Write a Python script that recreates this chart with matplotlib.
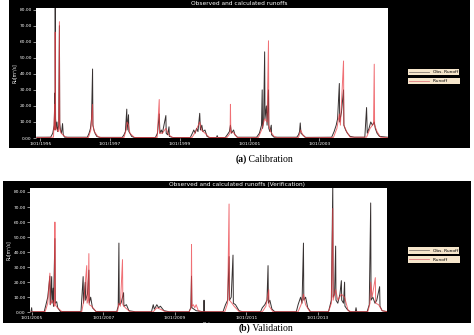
import matplotlib
matplotlib.use("Agg")
import matplotlib.pyplot as plt
from matplotlib.lines import Line2D

# ---- data (decimal year, runoff m3/s) ----
cal_obs = [
    (1994.90, 0.5), (1995.30, 0.5), (1995.36, 3), (1995.40, 8), (1995.42, 28), (1995.425, 5),
    (1995.43, 86), (1995.44, 12), (1995.46, 6), (1995.48, 10), (1995.50, 4), (1995.53, 8),
    (1995.55, 70), (1995.56, 9), (1995.58, 5), (1995.61, 3), (1995.64, 9), (1995.66, 2),
    (1995.70, 0.5), (1996.35, 0.5), (1996.40, 3), (1996.44, 6), (1996.47, 12), (1996.50, 43),
    (1996.51, 8), (1996.54, 5), (1996.57, 3), (1996.62, 1), (1996.70, 0.4), (1997.35, 0.4),
    (1997.40, 2), (1997.44, 4), (1997.48, 18), (1997.49, 5), (1997.53, 14.5), (1997.54, 4),
    (1997.57, 3), (1997.62, 1), (1997.70, 0.3), (1998.30, 0.3), (1998.36, 3), (1998.41, 15),
    (1998.43, 3), (1998.47, 5), (1998.50, 3), (1998.60, 14), (1998.61, 3), (1998.65, 2),
    (1998.69, 7), (1998.70, 1), (1998.80, 0.3), (1999.30, 0.3), (1999.36, 3), (1999.40, 5),
    (1999.44, 3), (1999.48, 6), (1999.52, 4), (1999.57, 15.4), (1999.59, 5), (1999.63, 8),
    (1999.66, 4), (1999.72, 5), (1999.78, 1), (1999.85, 0.3), (2000.05, 0.3), (2000.07, 1.5),
    (2000.09, 0.3), (2000.30, 0.3), (2000.36, 2), (2000.42, 4), (2000.45, 8), (2000.48, 3),
    (2000.54, 5), (2000.58, 2), (2000.65, 0.5), (2001.20, 0.5), (2001.28, 3), (2001.34, 8),
    (2001.36, 30), (2001.37, 6), (2001.40, 10), (2001.43, 53.7), (2001.44, 12), (2001.48, 20),
    (2001.50, 8), (2001.54, 30), (2001.55, 6), (2001.58, 4), (2001.62, 8), (2001.63, 2),
    (2001.70, 0.5), (2002.35, 0.5), (2002.40, 2), (2002.43, 4), (2002.45, 9.4), (2002.47, 3),
    (2002.52, 2), (2002.60, 0.4), (2003.35, 0.5), (2003.42, 4), (2003.48, 8), (2003.52, 12),
    (2003.57, 34), (2003.58, 10), (2003.63, 16), (2003.69, 30), (2003.70, 8), (2003.75, 5),
    (2003.80, 3), (2003.88, 1), (2004.00, 0.5), (2004.30, 0.5), (2004.35, 19), (2004.37, 3),
    (2004.42, 6), (2004.47, 10), (2004.52, 8), (2004.57, 10), (2004.60, 6), (2004.65, 3),
    (2004.72, 1), (2004.95, 0.5),
]
cal_sim = [
    (1994.90, 0.2), (1995.38, 0.5), (1995.42, 21), (1995.425, 5), (1995.43, 66), (1995.44, 8),
    (1995.48, 5), (1995.53, 4), (1995.55, 72.5), (1995.56, 6), (1995.60, 3), (1995.70, 1),
    (1995.80, 0.2), (1996.38, 0.3), (1996.45, 5), (1996.50, 21), (1996.51, 8), (1996.55, 4),
    (1996.65, 1), (1996.75, 0.2), (1997.40, 0.3), (1997.46, 5), (1997.49, 10), (1997.53, 8),
    (1997.57, 3), (1997.70, 0.3), (1998.35, 0.3), (1998.41, 24), (1998.42, 3), (1998.50, 3),
    (1998.60, 6), (1998.68, 2), (1998.80, 0.2), (1999.35, 0.3), (1999.45, 4), (1999.57, 10),
    (1999.62, 5), (1999.72, 3), (1999.85, 0.3), (2000.35, 0.3), (2000.44, 3), (2000.45, 21),
    (2000.46, 4), (2000.55, 3), (2000.65, 0.3), (2001.25, 0.3), (2001.34, 5), (2001.43, 12),
    (2001.50, 10), (2001.54, 60.6), (2001.55, 8), (2001.60, 4), (2001.70, 1), (2001.80, 0.2),
    (2002.40, 0.3), (2002.46, 5), (2002.52, 2), (2002.60, 0.2), (2003.40, 0.3), (2003.50, 6),
    (2003.57, 15), (2003.60, 8), (2003.69, 48), (2003.70, 8), (2003.78, 4), (2003.88, 0.5),
    (2004.35, 0.5), (2004.45, 6), (2004.55, 9), (2004.57, 46), (2004.58, 8), (2004.65, 4),
    (2004.75, 0.5), (2004.95, 0.2),
]
val_obs = [
    (2004.98, 0.3), (2005.00, 3), (2005.01, 0.3), (2005.35, 0.3), (2005.40, 5), (2005.45, 10),
    (2005.51, 24), (2005.52, 5), (2005.56, 23.7), (2005.57, 6), (2005.60, 16), (2005.61, 4),
    (2005.65, 49), (2005.66, 6), (2005.70, 7), (2005.73, 3), (2005.80, 0.5), (2006.38, 0.5),
    (2006.44, 23.7), (2006.45, 6), (2006.50, 20), (2006.51, 8), (2006.56, 12), (2006.60, 28),
    (2006.61, 6), (2006.65, 10), (2006.70, 3), (2006.80, 0.5), (2007.38, 0.5), (2007.42, 4),
    (2007.44, 46), (2007.45, 5), (2007.50, 6), (2007.57, 13), (2007.58, 4), (2007.65, 5),
    (2007.72, 1), (2007.90, 0.3), (2008.35, 0.3), (2008.40, 5), (2008.43, 2), (2008.50, 5),
    (2008.55, 3), (2008.60, 4), (2008.70, 1), (2008.85, 0.3), (2009.40, 0.3), (2009.45, 3),
    (2009.47, 24), (2009.48, 3), (2009.60, 1), (2009.81, 0.3), (2009.82, 8), (2009.83, 0.3),
    (2010.35, 0.3), (2010.42, 5), (2010.48, 8), (2010.52, 37), (2010.53, 8), (2010.58, 10),
    (2010.63, 38), (2010.64, 6), (2010.70, 5), (2010.80, 1), (2010.90, 0.3), (2011.40, 0.3),
    (2011.45, 3), (2011.52, 5), (2011.58, 8), (2011.61, 31), (2011.62, 6), (2011.66, 8),
    (2011.72, 2), (2011.80, 0.3), (2012.40, 0.3), (2012.45, 5), (2012.52, 10), (2012.56, 6),
    (2012.60, 46), (2012.61, 8), (2012.66, 10), (2012.72, 3), (2012.80, 0.3), (2013.30, 0.3),
    (2013.38, 8), (2013.42, 85), (2013.43, 10), (2013.47, 12), (2013.50, 44), (2013.51, 8),
    (2013.56, 6), (2013.62, 12), (2013.66, 21), (2013.67, 8), (2013.72, 6), (2013.75, 20),
    (2013.76, 4), (2013.82, 2), (2013.90, 0.3), (2014.05, 0.3), (2014.07, 3), (2014.09, 0.3),
    (2014.38, 0.3), (2014.44, 5), (2014.48, 72.7), (2014.49, 8), (2014.54, 10), (2014.60, 6),
    (2014.65, 8), (2014.73, 17), (2014.74, 4), (2014.80, 1), (2014.95, 0.3),
]
val_sim = [
    (2004.98, 0.2), (2005.38, 0.5), (2005.45, 6), (2005.51, 26), (2005.52, 5), (2005.58, 8),
    (2005.64, 4), (2005.65, 60), (2005.66, 5), (2005.72, 3), (2005.85, 0.3), (2006.40, 0.3),
    (2006.46, 8), (2006.54, 31), (2006.55, 6), (2006.58, 8), (2006.60, 39), (2006.61, 5),
    (2006.68, 4), (2006.80, 0.3), (2007.40, 0.3), (2007.44, 6), (2007.48, 4), (2007.54, 35),
    (2007.55, 5), (2007.62, 3), (2007.75, 0.3), (2008.40, 0.3), (2008.50, 3), (2008.60, 2),
    (2008.75, 0.3), (2009.40, 0.3), (2009.46, 3), (2009.47, 45), (2009.48, 4), (2009.52, 5),
    (2009.56, 3), (2009.60, 5), (2009.66, 1), (2009.75, 0.3), (2010.40, 0.3), (2010.48, 6),
    (2010.52, 72), (2010.53, 8), (2010.60, 6), (2010.66, 4), (2010.80, 0.5), (2011.45, 0.3),
    (2011.55, 4), (2011.63, 15), (2011.64, 4), (2011.75, 0.3), (2012.45, 0.3), (2012.55, 6),
    (2012.60, 12), (2012.66, 5), (2012.78, 0.3), (2013.30, 0.3), (2013.38, 6), (2013.42, 69),
    (2013.43, 8), (2013.50, 15), (2013.56, 8), (2013.66, 12), (2013.75, 10), (2013.85, 1),
    (2013.95, 0.3), (2014.40, 0.3), (2014.46, 6), (2014.48, 20), (2014.52, 10), (2014.61, 23),
    (2014.62, 6), (2014.70, 5), (2014.80, 1), (2014.95, 0.3),
]
cal_ticks = [1995, 1997, 1999, 2001, 2003]
val_ticks = [2005, 2007, 2009, 2011, 2013]
y_ticks = [0, 10, 20, 30, 40, 50, 60, 70, 80]

obs_col = (0.08, 0.05, 0.05, 0.85)
sim_col = (0.92, 0.25, 0.28, 0.75)
leg_face = '#f6e6cb'

fig = plt.figure(figsize=(4.74, 3.35), dpi=100)
fig.patch.set_facecolor('white')


def panel(frame, box, obs, sim, ticks, xlim, ylim, title, legy):
    # black frame behind the plot area
    bg = fig.add_axes(frame)
    bg.set_facecolor('black')
    bg.set_xticks([])
    bg.set_yticks([])
    for s in bg.spines.values():
        s.set_visible(False)
    bg.text(0.5, 0.995, title, transform=bg.transAxes, color='white',
            fontsize=4.2, ha='center', va='top')

    ax = fig.add_axes(box)
    ax.set_facecolor('white')
    t, q = zip(*obs)
    ax.plot(t, q, color=obs_col, lw=0.7)
    t, q = zip(*sim)
    ax.plot(t, q, color=sim_col, lw=0.7)
    ax.set_xlim(*xlim)
    ax.set_ylim(*ylim)
    ax.set_xticks(ticks)
    ax.set_xticklabels(['1/01/%d' % y for y in ticks])
    ax.set_yticks(y_ticks)
    ax.set_yticklabels(['%.2f' % v for v in y_ticks])
    ax.tick_params(colors='white', labelsize=3.2, length=2, width=0.4, pad=1)
    for s in ax.spines.values():
        s.set_visible(False)
    ax.set_xlabel('Date', color='white', fontsize=3.3, labelpad=1.5)
    ax.set_ylabel('Ru[m³/s]', color='white', fontsize=3.3, labelpad=2)

    # two little legend boxes, one per series
    h1 = [Line2D([], [], color='#8a7f76', lw=0.6)]
    h2 = [Line2D([], [], color='#e07c80', lw=0.6)]
    kw = dict(loc='upper left', fontsize=3.2, frameon=True, facecolor=leg_face,
              edgecolor='none', framealpha=1, fancybox=False, handlelength=4.5,
              borderpad=0.3, handletextpad=0.8, borderaxespad=0)
    l1 = fig.legend(h1, ['Obs. Runoff'], bbox_to_anchor=(0.860, legy), **kw)
    l2 = fig.legend(h2, ['Runoff         '], bbox_to_anchor=(0.860, legy - 0.027), **kw)
    l1.set_zorder(5)
    l2.set_zorder(5)
    return ax


panel((0.019, 0.558, 0.973, 0.442), (0.076, 0.588, 0.743, 0.388),
      cal_obs, cal_sim, cal_ticks, (1994.88, 2004.97), (0, 81),
      'Observed and calculated runoffs', 0.795)
panel((0.006, 0.036, 0.988, 0.424), (0.063, 0.068, 0.753, 0.371),
      val_obs, val_sim, val_ticks, (2004.95, 2014.93), (0, 82.7),
      'Observed and calculated runoffs (Verification)', 0.262)

fig.text(0.52, 0.525, '(a)', fontsize=7, family='Liberation Serif',
         fontweight='bold', ha='right', va='center')
fig.text(0.52, 0.525, ' Calibration', fontsize=7, family='Liberation Serif',
         ha='left', va='center')
fig.text(0.528, 0.019, '(b)', fontsize=7, family='Liberation Serif',
         fontweight='bold', ha='right', va='center')
fig.text(0.528, 0.019, ' Validation', fontsize=7, family='Liberation Serif',
         ha='left', va='center')

fig.savefig('out.png', dpi=100, facecolor='white')
